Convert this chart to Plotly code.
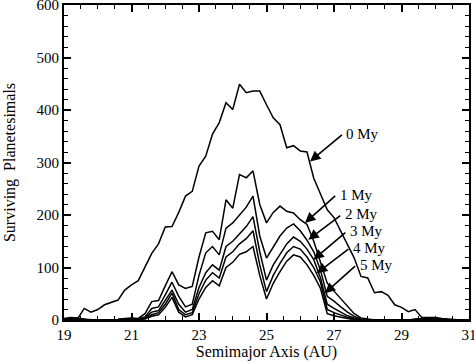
import plotly.graph_objects as go

# Semimajor axis bins (AU)
semimajor_axis = [round(19.0 + 0.2 * i, 1) for i in range(61)]

my0 = [2, 3, 2, 22, 15,
       20, 29, 33, 38, 57,
       67, 75, 102, 127, 145,
       177, 178, 205, 236, 245,
       293, 312, 354, 376, 414,
       401, 449, 433, 436, 436,
       410, 385, 372, 328, 332,
       322, 320, 270, 240, 210,
       195, 170, 145, 118, 83,
       80, 52, 54, 47, 29,
       24, 16, 20, 5, 5,
       5, 3, 1, 0, 0,
       0]
my1 = [3, 5, 4, 1, 0,
       0, 0, 0, 1, 3,
       4, 3, 12, 35, 37,
       65, 92, 67, 60, 64,
       120, 166, 169, 153, 229,
       213, 277, 271, 284, 220,
       185, 205, 217, 207, 204,
       191, 182, 150, 110, 70,
       55, 40, 25, 12, 4,
       2, 0, 0, 0, 0,
       0, 0, 2, 3, 3,
       3, 2, 1, 0, 0,
       0]
my2 = [2, 4, 3, 1, 0,
       0, 0, 0, 1, 2,
       3, 2, 6, 22, 25,
       48, 72, 45, 25, 30,
       85, 128, 140, 124, 175,
       185, 200, 215, 236, 160,
       118, 140, 160, 175, 183,
       170, 152, 130, 95, 45,
       36, 25, 15, 7, 2,
       1, 0, 0, 0, 0,
       0, 0, 1, 2, 2,
       2, 1, 0, 0, 0,
       0]
my3 = [2, 3, 3, 1, 0,
       0, 0, 0, 1, 2,
       2, 2, 4, 15, 18,
       38, 57, 30, 15, 20,
       62, 90, 105, 95, 140,
       150, 165, 178, 197, 130,
       76, 105, 125, 145, 158,
       150, 135, 115, 80, 30,
       22, 15, 8, 4, 1,
       0, 0, 0, 0, 0,
       0, 0, 1, 2, 2,
       2, 1, 0, 0, 0,
       0]
my4 = [2, 3, 2, 1, 0,
       0, 0, 0, 1, 1,
       2, 1, 3, 10, 14,
       30, 51, 20, 10, 14,
       50, 76, 90, 80, 120,
       130, 145, 155, 170, 105,
       54, 85, 108, 128, 140,
       135, 120, 100, 72, 20,
       14, 9, 5, 2, 0,
       0, 0, 0, 0, 0,
       0, 0, 1, 1, 2,
       1, 1, 0, 0, 0,
       0]
my5 = [1, 2, 2, 1, 0,
       0, 0, 0, 0, 1,
       1, 1, 2, 7, 10,
       24, 43, 15, 6, 10,
       40, 62, 75, 65, 100,
       110, 125, 130, 140, 85,
       40, 70, 92, 112, 124,
       120, 105, 85, 60, 12,
       8, 5, 3, 1, 0,
       0, 0, 0, 0, 0,
       0, 0, 1, 1, 1,
       1, 0, 0, 0, 0,
       0]

series = [my0, my1, my2, my3, my4, my5]
labels = ["0 My", "1 My", "2 My", "3 My", "4 My", "5 My"]

x_tickvals = [19, 21, 23, 25, 27, 29, 31]
y_tickvals = [0, 100, 200, 300, 400, 500, 600]

FONT = "Liberation Serif, Times New Roman, serif"

fig = go.Figure()
for s, name in zip(series, labels):
    fig.add_trace(go.Scatter(x=semimajor_axis, y=s, mode="lines", name=name,
                             line=dict(color="black", width=1.5),
                             showlegend=False))

# arrows: (tip x, tip y, tail x, tail y)
arrows = [
    (26.29, 302, 27.28, 355),
    (26.14, 185, 27.08, 239),
    (26.24, 153, 27.23, 201),
    (26.39, 115, 27.38, 169),
    (26.49, 89, 27.47, 137),
    (26.73, 51, 27.67, 105),
]
for (tx, ty, ax, ay), lab in zip(arrows, labels):
    fig.add_annotation(x=tx, y=ty, ax=ax, ay=ay, xref="x", yref="y",
                       axref="x", ayref="y", text="", showarrow=True,
                       arrowhead=2, arrowsize=1.3, arrowwidth=1.6,
                       arrowcolor="black")
    fig.add_annotation(x=ax, y=ay, xref="x", yref="y", text=lab,
                       showarrow=False, xanchor="left", yanchor="middle",
                       xshift=1, font=dict(family=FONT, size=15, color="black"))

axis_common = dict(showline=True, linecolor="black", linewidth=2,
                   mirror="ticks", ticks="inside", tickcolor="black",
                   tickwidth=1.5, showgrid=False, zeroline=False,
                   ticklabeloverflow="allow",
                   tickfont=dict(family=FONT, size=15, color="black"))

fig.update_xaxes(range=[19, 31], tickvals=x_tickvals, ticklen=7,
                 minor=dict(dtick=0.5, tick0=19, ticklen=4, ticks="inside",
                            tickcolor="black", tickwidth=1.2, showgrid=False),
                 title=dict(text="Semimajor Axis (AU)",
                            font=dict(family=FONT, size=16, color="black"),
                            standoff=4),
                 **axis_common)
fig.update_yaxes(range=[0, 600], tickvals=y_tickvals, ticklen=7,
                 minor=dict(dtick=20, tick0=0, ticklen=4, ticks="inside",
                            tickcolor="black", tickwidth=1.2, showgrid=False),
                 title=dict(text="Surviving  Planetesimals",
                            font=dict(family=FONT, size=16, color="black"),
                            standoff=17),
                 **axis_common)

fig.update_layout(width=474, height=364,
                  margin=dict(l=64, r=5, t=5, b=44, autoexpand=False),
                  paper_bgcolor="white", plot_bgcolor="white")

fig.write_html("out.html", config={"displayModeBar": False},
               post_script="document.body.style.margin='0';")
